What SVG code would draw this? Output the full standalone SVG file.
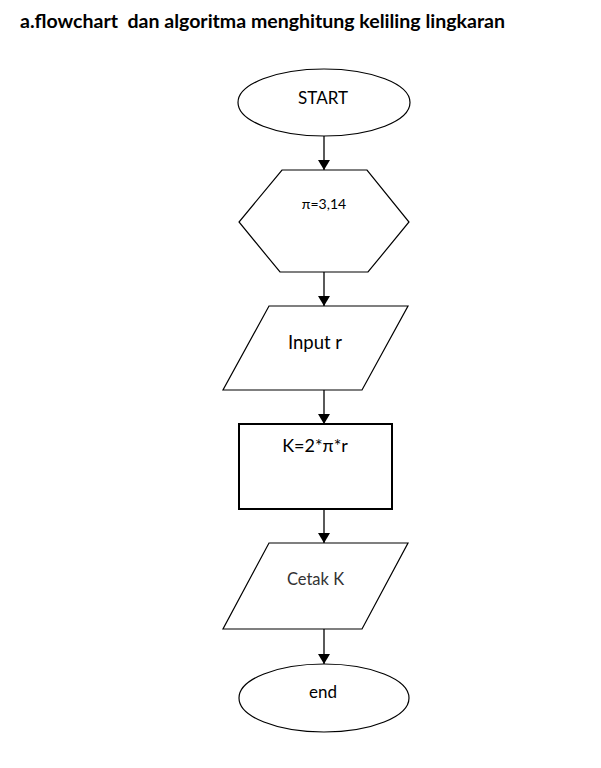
<svg xmlns="http://www.w3.org/2000/svg" width="601" height="768" viewBox="0 0 601 768">
<style>
.sh{fill:#fff;stroke:#000;stroke-width:1.2}
.t{font-family:Lato,"Liberation Sans",sans-serif;fill:#000;text-anchor:middle}
.c{stroke:#000;stroke-width:1.3;fill:none}
</style>
<defs>
<marker id="ah" viewBox="0 0 10 12" refX="10" refY="6" markerWidth="10" markerHeight="12" markerUnits="userSpaceOnUse" orient="auto">
<path d="M0,0 L10,6 L0,12 Z" fill="#000"/>
</marker>
</defs>
<rect width="601" height="768" fill="#fff"/>
<text x="20" y="28" xml:space="preserve" textLength="485" lengthAdjust="spacingAndGlyphs" style="font-family:Lato,'Liberation Sans',sans-serif;font-weight:bold;font-size:19px;white-space:pre" fill="#000">a.flowchart  dan algoritma menghitung keliling lingkaran</text>
<g id="connectors">
<line class="c" x1="324" y1="136" x2="324" y2="170" marker-end="url(#ah)"/>
<line class="c" x1="324" y1="272" x2="324" y2="306" marker-end="url(#ah)"/>
<line class="c" x1="324" y1="390" x2="324" y2="424" marker-end="url(#ah)"/>
<line class="c" x1="324" y1="509" x2="324" y2="543" marker-end="url(#ah)"/>
<line class="c" x1="324" y1="629" x2="324" y2="664" marker-end="url(#ah)"/>
</g>
<g id="start">
<ellipse class="sh" cx="324" cy="102.5" rx="86" ry="33.5"/>
<text class="t" x="323" y="104" font-size="17">START</text>
</g>
<g id="init">
<polygon class="sh" points="282,170 367,170 409,222 368,272 280,272 239,222"/>
<text class="t" x="324" y="209" font-size="14" fill="#333">π=3,14</text>
</g>
<g id="input">
<polygon class="sh" points="269,306 408,306 362,390 223,390"/>
<text class="t" x="315" y="349" font-size="18.5">Input r</text>
</g>
<g id="process">
<rect x="239" y="424" width="153" height="85" fill="#fff" stroke="#000" stroke-width="2"/>
<text class="t" x="315" y="452" font-size="18">K=2*π*r</text>
</g>
<g id="output">
<polygon class="sh" points="269,543 408,543 362,629 223,629"/>
<text class="t" x="315.5" y="585" font-size="16.5" style="fill:#333">Cetak K</text>
</g>
<g id="end">
<ellipse class="sh" cx="324" cy="698" rx="85" ry="34"/>
<text class="t" x="323" y="698" font-size="17">end</text>
</g>
</svg>
